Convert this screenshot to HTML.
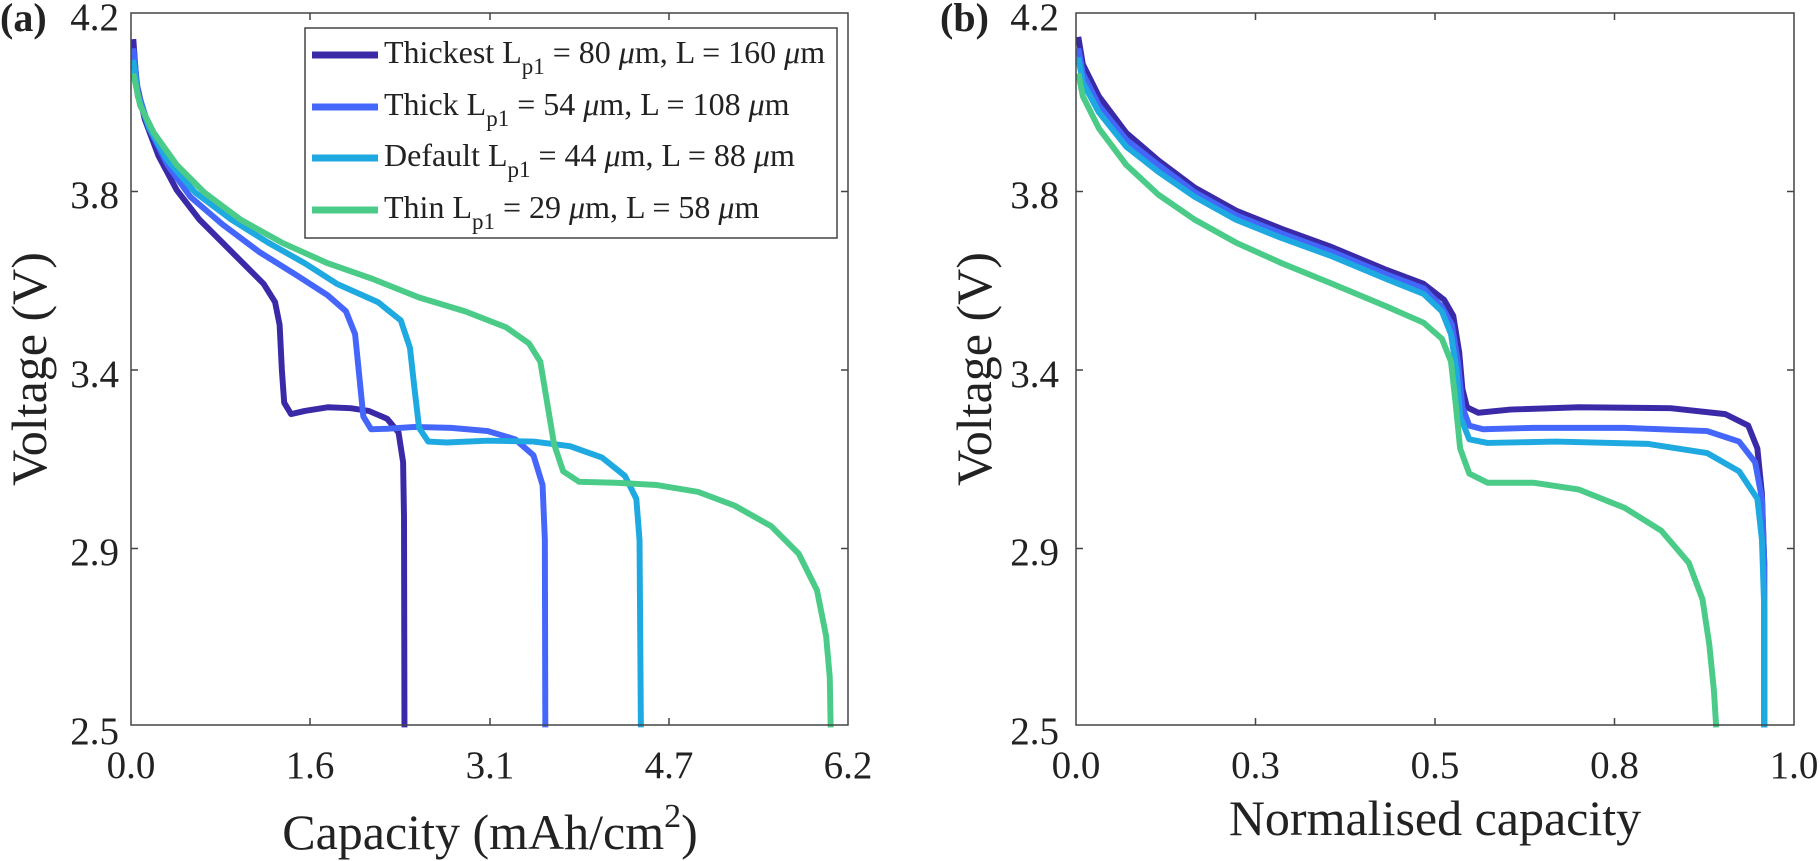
<!DOCTYPE html>
<html><head><meta charset="utf-8"><style>
html,body{margin:0;padding:0;background:#fff;}
svg{display:block;}
text{font-family:"Liberation Serif",serif;fill:#222;}
</style></head><body>
<svg width="1820" height="861" viewBox="0 0 1820 861" xmlns="http://www.w3.org/2000/svg">
<!-- Panel a -->
<g fill="none" stroke-linejoin="round" stroke-linecap="butt" stroke-width="13" transform="translate(131,14) scale(0.4573)">
<polyline stroke="#3b2aa8" points="5,55 12,150 30,230 60,310 100,385 150,450 200,500 250,550 290,590 315,630 325,680 330,780 335,850 350,875 380,868 430,860 480,862 520,868 560,885 585,915 595,980 597,1100 598,1560"/>
<polyline stroke="#4466fa" points="5,75 15,170 40,250 80,330 130,400 200,460 280,520 360,570 430,615 470,650 490,700 500,800 508,880 525,908 560,907 620,903 700,905 780,912 840,930 880,965 900,1030 905,1150 906,1560"/>
<polyline stroke="#1ea9e0" points="5,100 15,180 40,250 80,320 140,390 220,450 300,500 380,545 450,590 540,630 590,670 610,730 620,820 630,905 650,935 690,937 780,933 880,935 960,945 1030,970 1080,1010 1105,1060 1112,1150 1115,1560"/>
<polyline stroke="#4acb88" points="5,130 20,200 50,260 100,330 160,390 240,450 330,500 430,545 530,580 630,620 730,650 820,685 870,720 895,760 910,850 925,940 945,1000 980,1023 1060,1025 1150,1030 1240,1045 1320,1075 1400,1120 1460,1180 1500,1260 1520,1360 1528,1450 1530,1560"/>
</g>
<g stroke="#444" stroke-width="1.5" fill="none">
<rect x="131" y="13" width="717" height="712"/>
<path d="M131,191.5h7M131,370h7M131,548.5h7M848,191.5h-7M848,370h-7M848,548.5h-7M310,725v-7M490,725v-7M669,725v-7M310,13v7M490,13v7M669,13v7"/>
</g>
<g font-size="39" text-anchor="end">
<text x="119" y="30">4.2</text><text x="119" y="208">3.8</text><text x="119" y="387">3.4</text><text x="119" y="565">2.9</text><text x="119" y="744">2.5</text>
</g>
<g font-size="39" text-anchor="middle">
<text x="131" y="778">0.0</text><text x="310" y="778">1.6</text><text x="490" y="778">3.1</text><text x="669" y="778">4.7</text><text x="848" y="778">6.2</text>
</g>
<text x="490" y="849" font-size="50" text-anchor="middle">Capacity (mAh/cm<tspan font-size="34" dy="-22">2</tspan><tspan dy="22">)</tspan></text>
<text transform="translate(46,369) rotate(-90)" font-size="50" text-anchor="middle">Voltage (V)</text>
<text x="0" y="31" font-size="40" font-weight="bold">(a)</text>
<!-- legend -->
<rect x="305" y="28" width="532" height="210" fill="#fff" stroke="#444" stroke-width="1.5"/>
<g stroke-width="7">
<line x1="312" y1="55" x2="378" y2="55" stroke="#3b2aa8"/>
<line x1="312" y1="107" x2="378" y2="107" stroke="#4466fa"/>
<line x1="312" y1="158" x2="378" y2="158" stroke="#1ea9e0"/>
<line x1="312" y1="210" x2="378" y2="210" stroke="#4acb88"/>
</g>
<g font-size="32">
<text x="384" y="63">Thickest L<tspan font-size="23" dy="11">p1</tspan><tspan dy="-11"> = 80 </tspan><tspan font-style="italic">μ</tspan>m, L = 160 <tspan font-style="italic">μ</tspan>m</text>
<text x="384" y="115">Thick L<tspan font-size="23" dy="11">p1</tspan><tspan dy="-11"> = 54 </tspan><tspan font-style="italic">μ</tspan>m, L = 108 <tspan font-style="italic">μ</tspan>m</text>
<text x="384" y="166">Default L<tspan font-size="23" dy="11">p1</tspan><tspan dy="-11"> = 44 </tspan><tspan font-style="italic">μ</tspan>m, L = 88 <tspan font-style="italic">μ</tspan>m</text>
<text x="384" y="218">Thin L<tspan font-size="23" dy="11">p1</tspan><tspan dy="-11"> = 29 </tspan><tspan font-style="italic">μ</tspan>m, L = 58 <tspan font-style="italic">μ</tspan>m</text>
</g>

<!-- Panel b -->
<g fill="none" stroke-linejoin="round" stroke-width="13" transform="translate(1076,14) scale(0.4573)">
<polyline stroke="#3b2aa8" points="5,50 15,110 50,180 110,260 180,320 260,380 350,430 450,470 560,510 680,560 760,590 805,625 825,660 838,740 845,820 855,860 880,872 950,865 1100,860 1300,862 1420,875 1470,900 1490,950 1500,1050 1505,1200 1505,1560"/>
<polyline stroke="#4466fa" points="5,75 15,130 50,200 110,275 180,330 260,390 350,440 450,480 560,520 680,570 760,600 800,640 822,680 835,760 845,860 860,900 890,908 1000,905 1200,905 1380,912 1450,935 1485,980 1500,1060 1505,1200 1505,1560"/>
<polyline stroke="#1ea9e0" points="5,95 15,150 50,215 110,290 180,345 260,400 350,450 450,490 560,530 680,580 760,612 800,650 820,700 832,780 840,880 860,930 900,938 1050,935 1250,940 1380,960 1450,1000 1490,1060 1500,1150 1505,1300 1505,1560"/>
<polyline stroke="#4acb88" points="5,130 15,180 50,250 110,330 180,395 260,450 350,500 450,545 560,590 680,640 760,675 800,710 820,760 830,850 840,950 860,1005 900,1025 1000,1025 1100,1040 1200,1080 1280,1130 1340,1200 1370,1280 1385,1380 1395,1480 1400,1560"/>
</g>
<g stroke="#444" stroke-width="1.5" fill="none">
<rect x="1076" y="13" width="718" height="712"/>
<path d="M1076,191.5h7M1076,370h7M1076,548.5h7M1794,191.5h-7M1794,370h-7M1794,548.5h-7M1255.5,725v-7M1435,725v-7M1614.5,725v-7M1255.5,13v7M1435,13v7M1614.5,13v7"/>
</g>
<g font-size="39" text-anchor="end">
<text x="1059" y="30">4.2</text><text x="1059" y="208">3.8</text><text x="1059" y="387">3.4</text><text x="1059" y="565">2.9</text><text x="1059" y="744">2.5</text>
</g>
<g font-size="39" text-anchor="middle">
<text x="1076" y="778">0.0</text><text x="1255.5" y="778">0.3</text><text x="1435" y="778">0.5</text><text x="1614.5" y="778">0.8</text><text x="1794" y="778">1.0</text>
</g>
<text x="1435" y="835" font-size="50" text-anchor="middle">Normalised capacity</text>
<text transform="translate(991,369) rotate(-90)" font-size="50" text-anchor="middle">Voltage (V)</text>
<text x="940" y="31" font-size="40" font-weight="bold">(b)</text>
</svg>
</body></html>
